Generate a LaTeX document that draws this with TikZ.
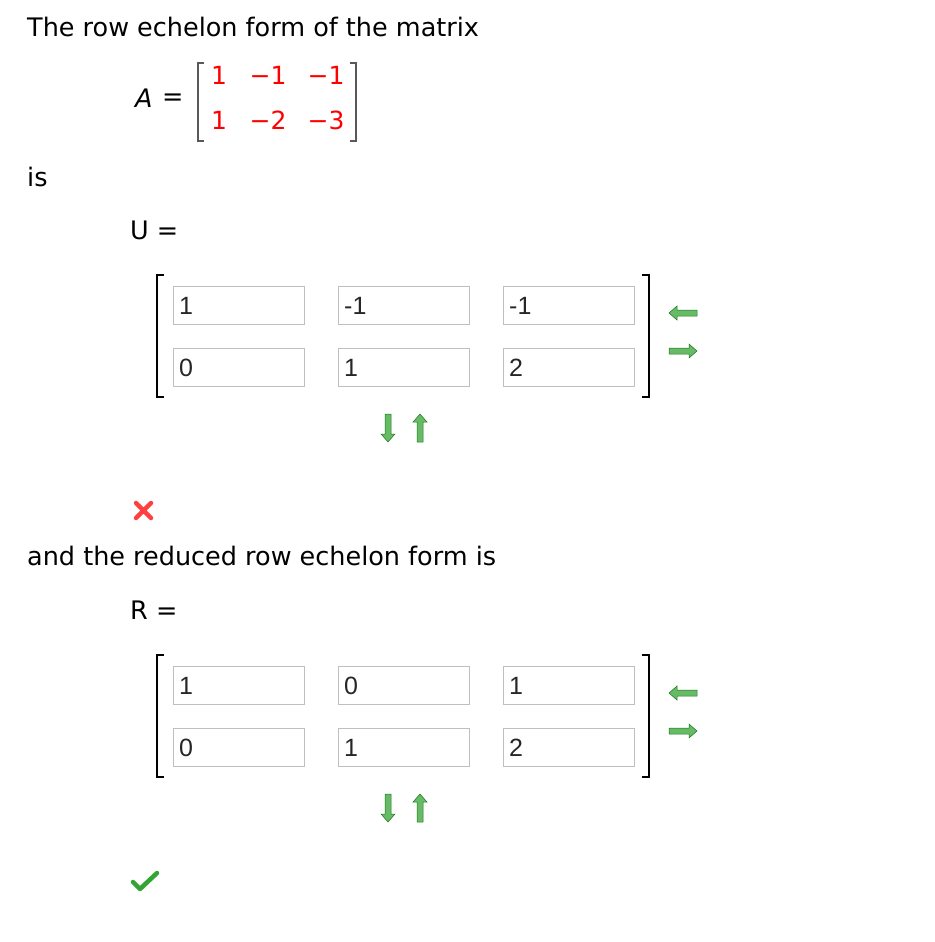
\documentclass[tikz,border=0pt]{standalone}
\usepackage{fontspec}
\setmainfont{DejaVu Sans}
\newfontfamily\arial{Liberation Sans}
\begin{document}
\begin{tikzpicture}[x=1pt,y=-1pt,
  txt/.style={anchor=west,inner sep=0,font=\fontsize{25.5}{28}\selectfont},
  red/.style={anchor=center,inner sep=0,text=red,font=\fontsize{25}{28}\selectfont},
  cell/.style={draw=black!25,line width=1pt,minimum width=131pt,minimum height=38pt,inner sep=0,anchor=north west},
  celltxt/.style={anchor=west,inner sep=0,text=black!85,font=\arial\fontsize{25}{28}\selectfont},
  brk/.style={line width=1.4pt},
  garrow/.style={fill=green!55!black!70,draw=green!40!black,line width=0.5pt,opacity=0.85}]
\useasboundingbox (0,0) rectangle (934,942);
\node[txt] (t1) at (27,27) {The row echelon form of the matrix};
\node[txt,font=\fontsize{25.5}{28}\selectfont\itshape] (A) at (135,98) {A};
\node[txt] (eqA) at (162,100) {=};
\node[red] (a11) at (219,75) {1};
\node[red] (a12) at (268,75) {−1};
\node[red] (a13) at (326,75) {−1};
\node[red] (a21) at (219,120) {1};
\node[red] (a22) at (268,120) {−2};
\node[red] (a23) at (326,120) {−3};
\draw[black!65,line width=2pt] (204,63) -- (198,63) -- (198,141) -- (204,141);
\draw[black!65,line width=2pt] (350,63) -- (356,63) -- (356,141) -- (350,141);
\node[txt] (is) at (27,177) {is};
\node[txt] (U) at (130,230) {U =};
\node[txt] (t2) at (27,556) {and the reduced row echelon form is};
\node[txt] (R) at (130,610) {R =};
\foreach \oy/\m/\va/\vb/\vc/\vd/\ve/\vf in {0/u/1/-1/-1/0/1/2, 380/r/1/0/1/0/1/2}{
  \draw[brk] (164,275+\oy) -- (157,275+\oy) -- (157,397+\oy) -- (164,397+\oy);
  \draw[brk] (642,275+\oy) -- (649,275+\oy) -- (649,397+\oy) -- (642,397+\oy);
  \foreach \cx/\col in {173/1,338/2,503/3}{
    \node[cell] (\m1\col) at (\cx,286+\oy) {};
    \node[cell] (\m2\col) at (\cx,348+\oy) {};
  }
  \node[celltxt] at ([xshift=6pt]\m11.west) {\va};
  \node[celltxt] at ([xshift=6pt]\m12.west) {\vb};
  \node[celltxt] at ([xshift=6pt]\m13.west) {\vc};
  \node[celltxt] at ([xshift=6pt]\m21.west) {\vd};
  \node[celltxt] at ([xshift=6pt]\m22.west) {\ve};
  \node[celltxt] at ([xshift=6pt]\m23.west) {\vf};
  \begin{scope}[shift={(683,313+\oy)}]
    \path[garrow] (-14,0) -- (-6,-7) -- (-6,-3) -- (14,-3) -- (14,3) -- (-6,3) -- (-6,7) -- cycle;
  \end{scope}
  \begin{scope}[shift={(683,351+\oy)}]
    \path[garrow] (14,0) -- (6,-7) -- (6,-3) -- (-14,-3) -- (-14,3) -- (6,3) -- (6,7) -- cycle;
  \end{scope}
  \begin{scope}[shift={(388,428+\oy)}]
    \path[garrow] (0,14) -- (-7,6) -- (-3,6) -- (-3,-14) -- (3,-14) -- (3,6) -- (7,6) -- cycle;
  \end{scope}
  \begin{scope}[shift={(420,428+\oy)}]
    \path[garrow] (0,-14) -- (-7,-6) -- (-3,-6) -- (-3,14) -- (3,14) -- (3,-6) -- (7,-6) -- cycle;
  \end{scope}
}
\draw[red!75!white,line width=4.5pt,line cap=round] (136,503) -- (151,518) (151,503) -- (136,518);
\draw[green!55!black!80,line width=4.5pt,line cap=round,line join=round] (133,882) -- (140,889) -- (157,873);
\end{tikzpicture}
\end{document}
